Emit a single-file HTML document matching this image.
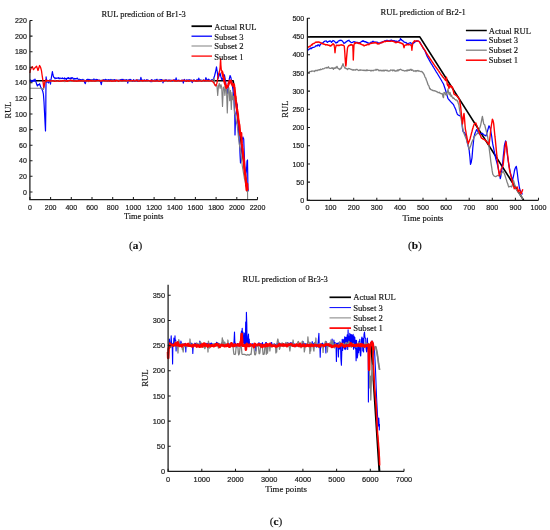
<!DOCTYPE html>
<html><head><meta charset="utf-8"><title>RUL prediction</title>
<style>
html,body{margin:0;padding:0;background:#fff;}
body{width:550px;height:530px;overflow:hidden;}
svg{display:block;}
.tk text{font-family:"Liberation Sans",sans-serif;fill:#222;stroke:#222;stroke-width:0.2px;}
.sf{font-family:"Liberation Serif",serif;fill:#111;stroke:#111;stroke-width:0.15px;}
.al{font-family:"Liberation Serif",serif;fill:#111;stroke:#111;stroke-width:0.15px;}
.lg{font-family:"Liberation Serif",serif;fill:#111;stroke:#111;stroke-width:0.15px;}
.cap{font-family:"Liberation Serif",serif;font-size:11.3px;fill:#111;stroke:#111;stroke-width:0.15px;}
</style></head><body>
<svg width="550" height="530" viewBox="0 0 550 530">
<polyline points="29.9,80.8 233.2,80.8 247.6,191.8" fill="none" stroke="#000000" stroke-width="1.6" stroke-linejoin="round"/>
<polyline points="29.9,81.4 30.2,80.7 30.6,80.0 31.0,81.0 31.3,82.0 31.6,81.2 32.0,80.4 32.4,81.0 32.8,81.6 33.2,80.8 33.6,80.0 34.0,80.5 34.3,81.0 34.6,80.0 35.0,79.1 35.3,79.9 35.6,80.8 35.9,81.7 36.2,82.6 36.5,83.6 36.8,84.6 37.1,85.2 37.4,85.9 37.8,85.2 38.2,84.6 38.6,84.7 39.0,84.8 39.3,84.2 39.6,83.7 39.9,84.6 40.2,85.5 40.7,87.0 41.1,87.7 41.5,88.4 41.9,89.1 42.2,89.7 42.5,90.6 42.8,91.5 43.1,92.8 43.4,94.2 43.7,98.1 44.0,102.0 44.3,108.0 44.6,114.0 45.1,124.0 45.5,131.0 45.8,112.0 45.9,92.0 46.1,76.9 46.5,80.0 46.8,81.1 47.1,82.2 47.5,81.6 47.8,81.0 48.2,82.0 48.6,82.9 48.9,81.7 49.2,80.5 49.5,80.2 49.8,80.0 50.1,82.1 50.5,84.2 50.9,80.0 51.3,78.0 51.8,75.0 52.1,73.3 52.4,71.6 52.9,74.5 53.2,75.7 53.5,76.9 53.9,77.3 54.3,77.6 54.7,78.0 55.1,78.7 55.6,77.9 56.0,78.2 56.5,78.4 57.0,77.9 57.5,78.2 58.0,78.2 58.5,77.6 59.0,78.7 59.5,78.5 60.0,78.0 60.5,78.3 61.0,78.6 61.5,78.3 62.0,78.3 62.5,77.8 63.0,78.7 63.5,78.5 64.0,78.6 64.5,77.9 65.0,79.2 65.5,78.6 66.0,78.4 66.5,79.4 67.0,78.5 67.5,78.0 68.0,78.4 68.5,77.6 69.0,78.9 69.5,78.3 70.0,78.2 70.5,78.9 71.0,77.8 71.5,78.6 72.0,77.6 72.5,78.2 73.0,78.0 73.5,79.1 74.0,79.3 74.5,78.5 75.0,79.0 75.5,78.7 76.0,79.0 76.5,78.5 77.0,78.2 77.5,78.2 78.0,79.2 78.5,80.0 79.0,79.4 79.5,79.2 80.0,80.4 80.5,79.7 81.0,79.7 81.5,79.9 82.0,79.7 82.5,79.7 83.0,79.3 83.5,80.2 84.0,80.0 84.4,82.0 84.9,82.9 85.3,83.7 85.7,82.2 86.0,80.7 86.5,79.8 87.0,79.6 87.5,79.4 88.0,79.4 88.5,79.7 89.0,79.3 89.5,80.4 90.0,79.6 90.5,79.7 91.0,80.2 91.5,80.2 92.0,79.5 92.5,79.7 93.0,79.9 93.5,79.6 94.0,78.9 94.5,79.9 95.0,80.0 95.5,79.9 96.0,79.3 96.5,79.6 97.0,79.5 97.5,79.6 98.0,80.3 98.5,80.4 99.0,80.0 99.5,80.0 100.0,80.1 100.4,81.5 100.9,83.2 101.3,84.7 101.7,82.5 102.0,80.9 102.5,80.3 103.0,79.8 103.5,79.8 104.0,79.6 104.5,80.1 105.0,80.1 105.5,79.3 106.0,80.1 106.5,79.7 107.0,80.4 107.5,79.9 108.0,80.5 108.5,79.7 109.0,79.7 109.5,79.9 110.0,80.2 110.5,80.1 111.0,79.4 111.5,79.9 112.0,79.9 112.5,79.8 113.0,79.7 113.5,80.7 114.0,79.8 114.5,79.7 115.0,80.3 115.5,80.1 116.0,80.1 116.5,80.4 117.0,80.3 117.5,80.3 118.0,80.6 118.5,80.3 119.0,80.0 119.5,80.1 120.0,80.1 120.0,80.4 120.6,79.8 121.2,79.4 121.8,80.3 122.4,79.6 123.0,79.3 123.6,80.5 124.2,79.9 124.8,80.5 125.4,80.0 126.0,79.7 126.6,79.7 127.2,80.0 127.8,83.2 128.4,79.9 129.0,80.2 129.5,79.5 130.1,80.3 130.7,79.4 131.3,80.2 131.9,80.6 132.5,80.8 133.1,81.2 133.7,79.5 134.3,80.7 134.9,80.9 135.5,80.8 136.1,79.8 136.7,80.5 137.3,81.2 137.9,79.6 138.5,80.5 139.1,80.9 139.7,80.0 140.3,80.6 140.9,77.3 141.5,79.9 142.1,79.9 142.7,80.4 143.3,80.3 143.9,80.8 144.5,79.8 145.1,80.2 145.7,80.8 146.3,80.6 146.9,79.6 147.5,80.6 148.0,80.1 148.6,80.5 149.2,80.5 149.8,80.9 150.4,80.4 151.0,81.9 151.6,79.6 152.2,80.7 152.8,80.2 153.4,80.9 154.0,80.4 154.6,79.9 155.2,80.8 155.8,79.9 156.4,79.3 157.0,81.3 157.6,79.3 158.2,80.6 158.8,80.8 159.4,80.4 160.0,79.5 160.6,80.8 161.2,79.6 161.8,79.6 162.4,80.1 163.0,82.9 163.6,80.5 164.2,80.7 164.8,80.1 165.4,80.2 166.0,79.7 166.5,80.1 167.1,80.6 167.7,80.2 168.3,80.5 168.9,80.0 169.5,80.0 170.1,80.3 170.7,80.2 171.3,80.6 171.9,80.4 172.5,81.2 173.1,80.2 173.7,80.2 174.3,79.8 174.9,80.3 175.5,80.6 176.1,77.9 176.7,80.3 177.3,80.7 177.9,80.2 178.5,80.0 179.1,80.8 179.7,80.3 180.3,80.5 180.9,80.9 181.5,80.9 182.1,80.1 182.7,80.0 183.3,83.2 183.9,80.2 184.5,79.4 185.0,80.9 185.6,80.3 186.2,80.7 186.8,79.7 187.4,80.9 188.0,80.0 188.6,80.2 189.2,79.6 189.8,80.2 190.4,80.2 191.0,80.2 191.6,80.5 192.2,82.6 192.8,80.8 193.4,80.1 194.0,79.8 194.6,80.3 195.2,80.6 195.8,80.9 196.4,80.7 197.0,79.4 197.6,80.5 198.2,81.0 198.8,78.1 199.4,80.0 200.0,80.5 200.6,80.0 201.2,80.6 201.8,80.3 202.4,81.0 203.0,80.5 203.5,79.9 204.1,80.6 204.7,80.8 205.3,80.0 205.9,77.6 206.5,79.1 207.1,80.8 207.7,80.0 208.3,79.2 208.9,79.4 209.5,80.2 210.1,80.7 210.7,80.3 211.3,80.5 211.9,79.7 212.5,79.6 212.5,80.0 213.0,79.5 213.5,79.0 214.0,77.5 214.5,76.0 215.0,74.0 215.5,72.0 216.0,69.5 216.5,66.9 216.9,69.5 217.3,72.0 217.7,75.4 218.0,78.8 218.5,77.4 219.0,76.0 219.5,74.5 220.0,73.0 220.5,75.0 221.0,77.0 221.5,78.5 222.0,80.0 222.5,79.0 223.0,78.0 223.5,76.9 223.9,75.9 224.4,74.8 224.9,77.4 225.3,80.0 225.7,82.7 226.1,85.3 226.5,88.0 226.9,89.8 227.3,91.5 227.7,93.3 228.1,89.7 228.5,86.0 228.9,82.5 229.3,79.0 229.7,77.2 230.1,75.5 230.6,76.8 231.0,78.0 231.5,81.0 232.0,84.0 232.5,87.0 233.0,90.0 233.5,95.0 234.0,100.0 234.4,108.0 234.8,116.0 235.0,135.0 235.5,118.0 235.9,115.0 236.3,112.0 236.8,108.0 237.2,104.0 237.5,112.0 237.8,120.0 238.2,126.5 238.6,133.0 239.0,137.5 239.4,142.0 239.8,149.0 240.1,156.0 240.5,163.0 240.8,156.5 241.2,150.0 241.6,145.0 242.0,140.0 242.5,138.5 243.0,137.0 243.3,138.0 243.7,139.0 244.2,152.0 244.5,160.0 244.8,168.0 245.2,172.0 245.6,176.0 245.9,174.0 246.3,172.0 246.7,166.5 247.0,161.0 247.5,160.0 247.7,172.0 247.9,186.0 248.1,191.0" fill="none" stroke="#0000ff" stroke-width="1.2" stroke-linejoin="round"/>
<polyline points="29.9,88.2 30.6,88.2 31.2,88.2 31.9,88.2 32.5,88.2 33.2,88.2 33.9,88.2 34.5,88.2 35.2,88.2 35.8,88.2 36.5,88.2 37.1,88.2 37.8,88.2 38.5,88.2 39.1,88.2 39.8,88.2 40.4,88.2 41.1,88.2 41.8,88.5 42.5,88.8 43.0,89.2 43.4,89.5 43.8,88.2 44.2,87.0 44.7,84.5 45.2,82.0 45.6,81.5 46.0,81.3 46.7,81.2 47.4,81.0 48.1,81.4 48.8,80.6 49.5,80.8 50.2,81.3 50.9,81.6 51.6,80.9 52.3,81.5 53.0,80.7 53.7,81.0 54.4,80.8 55.1,80.3 55.8,81.0 56.5,81.2 57.2,80.8 57.9,80.8 58.6,81.3 59.3,80.4 60.0,80.3 60.7,80.6 61.4,80.4 62.1,81.3 62.8,80.9 63.5,80.5 64.2,80.6 64.9,81.8 65.6,80.6 66.3,80.5 67.0,80.9 67.7,81.0 68.4,80.9 69.1,80.5 69.8,80.4 70.5,81.0 71.2,80.8 71.9,80.2 72.6,81.2 73.2,81.1 73.9,80.7 74.6,80.7 75.3,80.9 76.0,80.6 76.7,80.3 77.4,80.9 78.1,80.3 78.8,80.9 79.5,80.3 80.2,80.8 80.9,80.8 81.6,81.4 82.3,80.4 83.0,80.3 83.7,80.6 84.4,80.4 85.1,80.6 85.8,80.9 86.5,81.1 87.2,81.4 87.9,80.5 88.6,81.7 89.3,81.5 90.0,80.7 90.7,80.0 91.4,80.8 92.1,80.8 92.8,80.0 93.5,80.8 94.2,80.7 94.9,80.5 95.6,81.0 96.3,81.2 97.0,80.6 97.7,80.9 98.3,80.6 99.0,80.5 99.7,80.8 100.4,81.0 101.1,80.6 101.8,80.0 102.5,81.0 103.2,80.2 103.9,80.8 104.6,81.4 105.3,80.8 106.0,80.4 106.7,80.3 107.4,81.2 108.1,80.8 108.8,81.0 109.5,81.1 110.2,80.8 110.9,80.7 111.6,80.5 112.3,79.7 113.0,80.3 113.7,80.8 114.4,80.7 115.1,80.9 115.8,80.8 116.5,80.9 117.2,81.1 117.9,80.5 118.6,80.7 119.3,80.2 120.0,81.1 120.7,80.8 121.4,81.0 122.1,81.3 122.8,81.2 123.4,80.8 124.1,81.1 124.8,80.3 125.5,81.0 126.2,80.8 126.9,80.2 127.6,81.3 128.3,80.6 129.0,81.0 129.7,80.7 130.4,81.1 131.1,81.3 131.8,80.5 132.5,80.3 133.2,80.8 133.9,81.1 134.6,80.7 135.3,80.6 136.0,81.0 136.7,79.8 137.4,80.6 138.1,80.3 138.8,80.9 139.5,80.5 140.2,80.4 140.9,80.7 141.6,80.3 142.3,80.8 143.0,80.6 143.7,80.7 144.4,80.5 145.1,81.1 145.8,80.8 146.5,81.0 147.2,81.0 147.9,80.5 148.6,81.0 149.2,80.9 149.9,80.9 150.6,80.7 151.3,80.7 152.0,81.1 152.7,81.6 153.4,80.5 154.1,81.0 154.8,80.7 155.5,81.1 156.2,81.0 156.9,81.2 157.6,79.8 158.3,80.6 159.0,80.5 159.7,80.8 160.4,80.5 161.1,80.6 161.8,81.0 162.5,81.5 163.2,79.8 163.9,80.7 164.6,80.9 165.3,80.8 166.0,80.7 166.7,80.3 167.4,80.5 168.1,81.1 168.8,81.2 169.5,80.8 170.2,80.5 170.9,80.8 171.6,80.7 172.3,81.0 173.0,80.8 173.7,80.6 174.3,80.9 175.0,80.4 175.7,81.1 176.4,81.2 177.1,80.4 177.8,80.9 178.5,80.5 179.2,81.2 179.9,81.1 180.6,80.7 181.3,81.1 182.0,80.6 182.7,80.6 183.4,80.6 184.1,80.8 184.8,80.7 185.5,80.9 186.2,80.6 186.9,81.1 187.6,81.2 188.3,80.6 189.0,80.3 189.7,81.1 190.4,81.2 191.1,80.7 191.8,80.3 192.5,80.9 193.2,81.3 193.9,80.1 194.6,81.0 195.3,80.7 196.0,80.5 196.7,81.0 197.4,80.3 198.1,80.9 198.8,81.3 199.4,80.9 200.1,80.5 200.8,80.2 201.5,80.4 202.2,80.2 202.9,81.4 203.6,80.7 204.3,80.4 205.0,80.3 205.7,80.4 206.4,80.7 207.1,80.4 207.8,81.4 208.5,80.5 209.2,80.5 209.9,80.9 210.6,81.3 211.3,81.3 212.0,80.6 212.0,81.0 212.3,80.7 212.7,80.3 213.0,80.0 213.3,79.5 213.7,79.0 214.0,78.5 214.3,79.7 214.5,84.2 215.3,85.6 216.1,84.7 216.9,85.2 217.7,95.5 218.5,85.9 219.3,83.4 220.1,88.5 220.9,84.5 221.7,87.2 222.5,106.5 223.3,87.9 224.1,86.8 224.9,95.5 225.7,87.4 226.5,89.3 227.3,113.0 228.1,90.1 228.9,87.7 229.7,100.6 230.5,90.4 231.3,109.5 232.1,92.3 232.9,99.7 233.7,96.1 234.5,114.0 235.3,114.0 235.6,116.7 236.0,119.3 236.3,122.0 236.6,123.3 237.0,124.7 237.3,126.0 237.6,129.3 238.0,132.7 238.3,136.0 238.6,138.7 239.0,141.3 239.3,144.0 239.6,146.0 240.0,148.0 240.3,150.0 240.6,152.7 241.0,155.3 241.3,158.0 241.6,160.7 242.0,163.3 242.3,166.0 242.6,168.0 243.0,170.0 243.3,172.0 243.6,174.0 244.0,176.0 244.3,178.0 244.6,179.3 245.0,180.7 245.3,182.0 245.6,183.7 246.0,185.3 246.3,187.0 246.7,187.3 247.1,187.7 247.5,188.0 247.6,199.0" fill="none" stroke="#808080" stroke-width="1.15" stroke-linejoin="round"/>
<polyline points="29.9,73.0 30.3,70.5 30.9,68.6 31.6,67.4 32.4,66.7 33.0,68.4 33.5,69.7 34.2,68.6 35.0,67.8 35.8,67.0 36.6,66.3 37.3,68.4 38.0,70.5 38.8,68.0 39.6,65.5 40.2,66.6 40.7,67.8 41.1,69.2 41.5,70.8 42.0,74.5 42.6,78.4 43.2,83.0 43.7,87.4 44.3,85.0 44.9,82.2 45.6,79.9 46.4,81.4 47.2,80.4 48.0,80.7 48.0,80.6 48.8,80.6 49.6,81.0 50.4,81.2 51.2,80.8 52.0,80.6 52.8,80.8 53.6,80.7 54.4,81.4 55.2,81.1 56.0,81.2 56.8,80.9 57.6,80.6 58.4,81.2 59.2,81.3 60.0,81.0 60.8,80.8 61.6,81.1 62.4,80.7 63.2,81.0 64.0,80.6 64.8,80.5 65.6,81.0 66.4,80.9 67.2,81.4 68.0,80.7 68.8,80.8 69.6,80.5 70.4,80.2 71.2,80.3 72.0,80.9 72.8,80.4 73.6,81.1 74.4,81.2 75.2,80.7 76.0,81.3 76.8,80.9 77.6,81.1 78.4,80.7 79.2,81.1 80.0,80.5 80.8,81.0 81.6,80.7 82.4,80.8 83.2,81.0 84.0,80.9 84.8,80.8 85.6,81.0 86.4,81.0 87.2,80.4 88.0,81.0 88.8,81.0 89.6,80.6 90.4,80.9 91.2,80.4 92.0,81.2 92.8,80.7 93.6,80.8 94.4,81.2 95.2,80.8 96.0,81.0 96.8,80.5 97.6,80.6 98.4,80.4 99.2,80.7 100.0,81.1 100.8,80.9 101.6,81.1 102.4,80.5 103.2,80.5 104.0,80.7 104.8,81.0 105.6,80.9 106.4,80.8 107.2,81.0 108.0,80.8 108.8,80.8 109.6,81.2 110.4,80.6 111.2,80.9 112.0,81.3 112.8,80.8 113.6,81.0 114.4,80.6 115.2,81.4 116.0,80.1 116.8,80.5 117.6,80.5 118.4,81.3 119.2,80.9 120.0,80.7 120.8,80.4 121.6,80.9 122.4,80.8 123.2,80.6 124.0,80.4 124.8,80.5 125.6,80.9 126.4,80.9 127.2,80.8 128.0,80.8 128.8,80.3 129.6,80.8 130.4,80.5 131.2,80.8 132.0,80.9 132.8,80.6 133.6,80.5 134.4,81.1 135.2,80.9 136.0,80.6 136.8,79.9 137.6,80.8 138.4,81.0 139.2,81.1 140.0,80.6 140.8,80.6 141.6,80.7 142.4,81.1 143.2,80.4 144.0,80.8 144.8,80.5 145.6,80.9 146.4,80.3 147.2,80.9 148.0,80.7 148.8,80.7 149.6,81.0 150.4,81.1 151.2,80.3 152.0,81.1 152.8,81.0 153.6,80.7 154.4,81.2 155.2,80.9 156.0,81.2 156.8,80.6 157.6,80.5 158.4,81.2 159.2,81.4 160.0,81.0 160.8,81.1 161.6,80.7 162.4,80.4 163.2,80.7 164.0,81.3 164.8,80.2 165.6,80.7 166.4,80.2 167.2,80.8 168.0,81.1 168.8,80.4 169.6,80.7 170.4,81.2 171.2,80.8 172.0,80.4 172.8,80.4 173.6,80.2 174.4,81.0 175.2,80.6 176.0,81.1 176.8,81.1 177.6,80.6 178.4,80.6 179.2,81.0 180.0,80.8 180.8,80.9 181.6,80.3 182.4,81.1 183.2,80.5 184.0,80.1 184.8,80.6 185.6,80.9 186.4,81.4 187.2,80.7 188.0,80.4 188.8,81.4 189.6,80.8 190.4,80.7 191.2,80.5 192.0,80.5 192.8,81.2 193.6,80.7 194.4,80.6 195.2,80.6 196.0,81.3 196.8,80.6 197.6,81.0 198.4,80.9 199.2,80.9 200.0,80.5 200.8,81.0 201.6,81.3 202.4,80.8 203.2,80.5 204.0,80.4 204.8,80.9 205.6,80.7 206.4,80.8 207.2,80.8 208.0,80.4 208.8,81.0 209.6,80.9 210.4,80.8 211.2,80.9 212.0,81.1 212.0,81.0 212.3,81.3 212.6,81.6 212.9,81.9 213.2,82.2 213.5,82.5 213.8,83.0 214.1,83.5 214.4,84.0 214.7,84.5 214.9,84.8 215.2,85.1 215.4,85.4 215.7,85.7 215.9,86.0 216.2,85.2 216.4,84.5 216.7,83.8 217.0,83.0 217.2,81.5 217.5,80.0 217.8,78.5 218.0,77.0 218.2,75.9 218.5,74.8 218.8,73.2 219.0,73.1 219.3,71.8 219.5,71.1 219.8,70.1 220.1,67.5 220.3,63.5 220.6,58.7 220.8,62.2 220.9,65.0 221.2,68.5 221.5,71.2" fill="none" stroke="#ff0000" stroke-width="1.3" stroke-linejoin="round"/>
<polyline points="221.5,71.2 221.8,71.3 222.0,71.8 222.3,72.2 222.5,73.7 222.8,74.2 223.0,74.8 223.2,76.4 223.5,77.0 223.8,77.8 224.0,78.2 224.2,80.5 224.5,81.6 224.8,82.8 225.0,83.8 225.3,84.4 225.6,85.5 225.8,86.5 226.1,87.1 226.4,87.9 226.7,87.4 226.9,87.4 227.2,87.0 227.5,86.1 227.8,86.3 228.0,85.6 228.2,85.0 228.5,83.9 228.8,83.4 229.0,82.4 229.2,82.9 229.5,80.9 229.8,81.3 230.0,80.8 230.3,80.9 230.5,80.8 230.8,80.6 231.0,80.7 231.2,81.8 231.5,83.0 231.8,83.8 232.0,84.4 232.2,84.4 232.5,84.8 232.8,85.7 233.0,84.8 233.3,85.0 233.5,85.3 233.8,84.3 234.0,85.1 234.3,87.0 234.5,87.6 234.7,90.3 235.0,93.4 235.2,95.9 235.5,96.1 235.7,99.4 236.0,102.0 236.3,103.1 236.5,105.8 236.8,108.8 237.1,109.4 237.3,111.6 237.6,113.0 237.9,114.4 238.1,117.8 238.4,119.9 238.7,121.8 238.9,123.7 239.2,124.3 239.5,126.5 239.7,129.6 240.0,132.1 240.3,134.5 240.6,135.3 240.9,134.4 241.2,133.0 241.4,137.6 241.6,140.7 241.8,143.7 242.1,145.6 242.3,147.7 242.6,149.5 242.9,152.8 243.2,155.8 243.4,158.0 243.6,158.8 243.8,159.6 244.1,163.7 244.4,168.6 244.7,170.7 245.0,173.1 245.3,175.4 245.6,177.8 245.9,180.9 246.2,185.6 246.4,187.1 246.7,190.2 246.9,186.8 247.2,184.0 247.3,187.0 247.5,190.0" fill="none" stroke="#ff0000" stroke-width="2.3" stroke-linejoin="round"/>
<path d="M29.9 20.5V199.7H257.5" fill="none" stroke="#1c1c1c" stroke-width="1.25"/>
<path d="M29.9 199.7v-2.6M50.6 199.7v-2.6M71.3 199.7v-2.6M92.0 199.7v-2.6M112.7 199.7v-2.6M133.4 199.7v-2.6M154.1 199.7v-2.6M174.8 199.7v-2.6M195.4 199.7v-2.6M216.1 199.7v-2.6M236.8 199.7v-2.6M257.5 199.7v-2.6M29.9 191.9h2.6M29.9 176.3h2.6M29.9 160.7h2.6M29.9 145.2h2.6M29.9 129.6h2.6M29.9 114.0h2.6M29.9 98.4h2.6M29.9 82.8h2.6M29.9 67.3h2.6M29.9 51.7h2.6M29.9 36.1h2.6M29.9 20.5h2.6" fill="none" stroke="#1c1c1c" stroke-width="1.05"/>
<g class="tk" text-anchor="middle" font-size="7.0">
<text x="29.9" y="209.6">0</text>
<text x="50.6" y="209.6">200</text>
<text x="71.3" y="209.6">400</text>
<text x="92.0" y="209.6">600</text>
<text x="112.7" y="209.6">800</text>
<text x="133.4" y="209.6">1000</text>
<text x="154.1" y="209.6">1200</text>
<text x="174.8" y="209.6">1400</text>
<text x="195.4" y="209.6">1600</text>
<text x="216.1" y="209.6">1800</text>
<text x="236.8" y="209.6">2000</text>
<text x="257.5" y="209.6">2200</text>
</g>
<g class="tk" text-anchor="end" font-size="7.0">
<text x="26.8" y="194.5">0</text>
<text x="26.8" y="178.9">20</text>
<text x="26.8" y="163.3">40</text>
<text x="26.8" y="147.8">60</text>
<text x="26.8" y="132.2">80</text>
<text x="26.8" y="116.6">100</text>
<text x="26.8" y="101.0">120</text>
<text x="26.8" y="85.4">140</text>
<text x="26.8" y="69.9">160</text>
<text x="26.8" y="54.3">180</text>
<text x="26.8" y="38.7">200</text>
<text x="26.8" y="23.1">220</text>
</g>
<text class="sf" font-size="8.5" text-anchor="middle" x="143.6" y="17.4">RUL prediction of Br1-3</text>
<text class="al" font-size="8.3" text-anchor="middle" x="143.7" y="219.3">Time points</text>
<text class="al" font-size="8.3" text-anchor="middle" transform="translate(10.7 110.1) rotate(-90)">RUL</text>
<text class="cap" text-anchor="middle" x="135.7" y="248.7">(<tspan font-weight="bold">a</tspan>)</text>
<path d="M191.5 26.2H212.0" stroke="#000000" stroke-width="1.8"/>
<text class="lg" font-size="8.6" x="214.3" y="29.6">Actual RUL</text>
<path d="M191.5 36.2H212.0" stroke="#0000ff" stroke-width="1.3"/>
<text class="lg" font-size="8.6" x="214.3" y="39.6">Subset 3</text>
<path d="M191.5 46.0H212.0" stroke="#808080" stroke-width="1.0"/>
<text class="lg" font-size="8.6" x="214.3" y="49.4">Subset 2</text>
<path d="M191.5 56.1H212.0" stroke="#ff0000" stroke-width="1.3"/>
<text class="lg" font-size="8.6" x="214.3" y="59.5">Subset 1</text>
<polyline points="307.4,36.9 419.8,36.9 523.6,200.1" fill="none" stroke="#000000" stroke-width="1.7" stroke-linejoin="round"/>
<polyline points="307.4,50.2 307.9,49.8 308.5,49.8 309.0,49.2 309.5,48.8 310.0,49.0 310.5,48.2 311.0,47.9 311.5,48.7 312.0,47.8 312.5,47.6 313.0,47.4 313.5,47.3 314.0,47.3 314.5,47.0 315.0,46.7 315.5,46.3 316.0,45.7 316.5,45.9 317.0,46.0 317.4,45.5 317.9,44.9 318.3,44.8 318.9,45.3 319.5,46.2 320.0,45.0 320.5,44.4 321.0,43.9 321.5,43.2 322.0,43.2 322.5,43.2 323.0,42.8 323.5,42.1 324.0,41.7 324.5,41.4 325.1,41.1 325.6,41.0 326.2,40.8 326.8,41.6 327.3,42.4 327.9,42.0 328.5,41.6 329.0,41.1 329.5,41.4 330.0,40.9 330.5,41.0 331.0,41.6 331.5,42.4 332.0,41.7 332.5,41.3 333.0,40.5 333.5,40.7 334.0,41.0 334.5,41.3 335.0,41.9 335.5,42.6 336.0,43.2 336.5,42.4 337.0,42.4 337.5,42.5 338.0,41.4 338.5,40.9 339.0,40.9 339.5,40.5 340.0,40.2 340.5,40.5 341.0,40.2 341.5,40.6 342.0,40.7 342.5,41.3 343.0,41.9 343.5,42.6 344.0,43.3 344.5,43.1 345.0,42.7 345.5,42.7 346.0,41.7 346.5,41.7 347.0,41.2 347.5,40.8 348.0,40.6 348.5,40.6 349.0,40.2 349.5,41.1 350.0,41.6 350.5,41.8 351.0,42.5 351.5,42.6 352.0,42.5 352.5,42.4 353.0,42.0 353.5,41.8 354.0,41.7 354.5,41.8 355.0,42.1 355.5,42.1 356.0,42.4 356.5,42.6 357.0,42.1 357.5,42.6 358.0,42.6 358.5,43.2 359.0,43.4 359.5,42.6 360.0,42.5 360.5,42.4 361.0,41.9 361.5,41.5 362.0,41.2 362.5,41.3 363.0,40.6 363.5,41.3 364.0,41.2 364.5,41.6 365.0,42.0 365.5,41.7 366.0,41.9 366.5,42.5 367.0,42.3 367.5,42.6 368.0,42.9 368.5,43.2 369.0,43.0 369.5,43.0 370.0,43.1 370.5,43.1 371.0,42.1 371.5,42.7 372.0,42.3 372.5,41.6 373.0,41.2 373.5,41.9 374.0,41.8 374.5,42.1 375.0,42.4 375.5,42.0 376.0,42.0 376.5,42.0 377.0,42.0 377.5,42.5 378.0,42.8 378.5,42.8 379.0,42.9 379.5,43.5 380.0,43.0 380.5,42.8 381.0,42.3 381.5,42.6 382.0,42.0 382.5,41.9 383.0,41.5 383.5,41.5 384.0,41.4 384.5,40.8 385.0,40.8 385.5,40.9 386.0,40.5 386.5,40.4 387.0,40.4 387.5,40.4 388.0,41.0 388.5,40.7 389.0,41.2 389.5,41.1 390.0,40.4 390.5,40.5 391.0,40.2 391.5,40.1 392.0,40.4 392.5,40.5 393.0,40.8 393.5,41.0 394.0,40.6 394.5,40.9 395.0,41.3 395.5,41.6 396.0,40.8 396.5,41.8 397.0,41.6 397.5,41.8 398.0,41.2 398.5,40.9 399.0,41.0 399.5,40.7 400.0,39.8 400.5,38.6 401.0,39.8 401.5,39.7 402.0,40.4 402.5,40.7 403.0,40.9 403.5,41.5 404.0,42.0 404.5,42.2 405.0,42.5 405.5,42.6 406.0,42.4 406.5,43.0 407.0,43.4 407.5,43.6 408.0,43.6 408.5,43.5 409.0,43.2 409.5,43.0 410.0,42.8 410.5,42.7 411.0,43.1 411.5,44.0 412.0,44.1 412.5,44.1 413.0,43.2 413.5,43.2 414.0,42.0 414.5,42.5 415.0,41.8 415.5,41.6 416.0,41.3 416.5,41.4 417.0,40.7 417.5,41.2 418.0,41.1 418.5,41.2 419.0,41.3 419.5,41.9 420.0,42.3 420.5,43.3 421.0,44.0 421.5,45.0 422.0,46.0 422.5,47.0 423.0,48.0 423.5,48.8 424.0,49.5 424.5,50.2 425.0,51.0 425.5,52.2 426.0,53.5 426.5,54.8 427.0,56.0 427.6,57.1 428.2,58.2 428.8,59.3 429.4,60.4 430.0,61.5 430.5,62.4 431.0,63.2 431.5,64.1 432.1,64.9 432.6,65.8 433.1,66.6 433.6,67.5 434.2,68.4 434.7,69.3 435.3,70.2 435.9,71.2 436.4,72.1 437.0,73.0 437.6,74.0 438.2,75.0 438.8,76.0 439.4,77.0 440.0,78.0 440.6,79.0 441.2,80.0 441.8,81.0 442.3,82.0 442.9,83.0 443.5,84.0 444.0,85.5 444.5,87.0 445.0,88.5 445.5,90.0 446.0,91.7 446.5,93.4 447.0,95.2 447.5,96.9 448.0,98.6 448.5,99.2 449.0,99.8 449.5,100.3 450.0,100.9 450.5,101.5 451.1,102.1 451.7,102.7 452.2,103.3 452.8,103.9 453.4,104.5 453.9,105.6 454.4,106.8 455.0,107.9 455.5,109.0 456.0,110.3 456.4,111.7 456.9,113.1 457.4,114.4 457.9,114.8 458.5,115.1 459.0,115.5 459.5,115.6 460.0,115.8 460.5,115.9 461.0,116.0 461.4,118.0 461.8,120.0 462.4,128.0 462.7,129.7 463.0,131.4 463.4,131.8 463.9,132.1 464.3,132.5 464.9,133.3 465.4,134.2 465.9,136.1 466.4,138.0 466.9,140.3 467.3,142.7 467.8,144.3 468.2,146.0 468.7,148.2 469.2,150.3 469.5,153.7 469.9,157.0 470.2,160.7 470.5,164.4 470.9,163.2 471.3,162.0 471.6,159.9 472.0,157.8 472.4,152.9 472.8,148.0 473.4,142.5 473.9,137.0 474.4,135.5 474.8,134.0 475.3,132.5 475.8,131.5 476.2,130.5 476.7,129.5 477.1,130.3 477.6,131.2 478.0,132.0 478.5,132.7 479.0,133.5 479.5,134.2 480.0,134.0 480.5,133.7 481.0,133.5 481.5,133.4 481.9,133.4 482.4,133.3 482.8,133.7 483.3,134.2 483.8,134.6 484.2,135.0 484.6,135.2 485.1,135.5 485.6,135.8 486.0,136.0 486.5,134.3 487.0,132.7 487.5,131.0 488.0,129.3 488.5,127.5 489.0,125.8 489.5,126.7 490.0,127.5 490.4,129.4 490.8,131.4 491.3,134.2 491.8,137.0 492.2,140.3 492.7,143.7 493.1,145.8 493.6,147.9 494.0,150.0 494.5,152.7 495.1,155.3 495.6,158.0 496.1,159.8 496.6,161.5 497.0,163.2 497.5,165.0 498.0,167.3 498.5,169.7 499.0,172.0 499.4,174.2 499.9,176.4 500.3,178.6 500.8,176.3 501.2,174.0 501.7,170.7 502.2,167.3 502.8,161.7 503.3,156.0 503.9,150.8 504.4,145.6 504.8,144.0 505.2,142.4 505.6,140.8 506.1,143.4 506.5,146.0 507.0,151.0 507.5,156.0 508.0,159.3 508.5,162.7 509.0,166.0 509.6,168.7 510.1,171.3 510.7,174.0 511.1,175.6 511.6,177.2 512.0,178.9 512.5,180.5 513.0,178.2 513.5,176.0 514.0,173.5 514.4,171.0 514.8,169.5 515.3,168.0 515.8,167.2 516.3,166.3 516.8,169.2 517.2,172.0 517.7,176.2 518.2,180.5 518.7,183.2 519.1,186.0 519.5,188.0 520.0,190.0 520.4,190.7 520.8,191.3 521.2,192.0 521.8,193.3 522.4,194.6" fill="none" stroke="#0000ff" stroke-width="1.25" stroke-linejoin="round"/>
<polyline points="307.4,73.4 307.8,73.1 308.2,72.6 308.6,72.5 309.0,72.3 309.5,71.5 310.0,71.7 310.5,71.5 311.0,71.3 311.5,71.5 312.0,71.0 312.5,71.1 313.0,71.2 313.5,71.2 314.0,71.1 314.5,71.6 315.0,70.6 315.5,70.7 316.0,70.2 316.5,70.5 317.0,70.6 317.5,70.5 318.0,69.8 318.5,69.8 319.0,70.1 319.5,69.6 320.0,69.8 320.5,69.1 321.0,69.7 321.5,69.5 322.0,69.2 322.5,68.7 323.0,68.8 323.5,68.8 324.0,68.7 324.5,68.3 325.0,68.0 325.5,67.8 326.0,67.9 326.5,67.4 327.0,68.1 327.5,67.6 327.9,67.5 328.4,66.8 328.8,67.8 329.2,68.0 329.6,68.2 330.0,68.4 330.5,68.4 331.0,68.3 331.5,68.1 332.0,67.6 332.5,68.4 333.0,68.2 333.5,69.4 334.0,67.8 334.5,68.4 335.0,67.9 335.5,68.2 336.0,67.1 336.5,67.7 337.0,66.3 337.5,68.0 338.0,68.1 338.5,68.6 339.0,68.9 339.5,69.7 340.0,69.5 340.5,68.1 341.0,68.6 341.5,67.9 342.0,66.0 342.5,65.5 343.0,63.6 343.5,65.3 344.0,66.6 344.5,67.1 345.0,68.2 345.5,67.9 346.0,68.6 346.5,68.6 347.0,68.9 347.5,69.5 348.0,68.8 348.5,68.4 349.0,68.6 349.5,68.6 350.0,69.0 350.5,69.2 351.0,69.4 351.5,69.6 352.0,69.5 352.5,70.0 353.0,70.3 353.5,69.7 354.0,69.8 354.5,69.8 355.0,70.1 355.5,70.0 356.0,69.4 356.5,69.7 357.0,69.4 357.5,69.7 358.0,70.1 358.5,70.4 359.0,70.6 359.5,70.2 360.0,69.8 360.5,70.3 361.0,70.0 361.5,70.2 362.0,70.0 362.5,70.3 363.0,70.3 363.5,70.5 364.0,70.1 364.5,70.6 365.0,70.2 365.5,70.4 366.0,70.8 366.5,70.3 367.0,69.8 367.5,70.5 368.0,70.3 368.5,70.4 369.0,70.3 369.5,70.4 370.0,70.3 370.5,70.3 371.0,71.1 371.5,70.4 372.0,70.3 372.5,70.3 373.0,70.9 373.5,70.5 374.0,70.1 374.5,70.1 375.0,70.2 375.5,70.2 376.0,69.3 376.5,70.0 377.0,69.5 377.5,69.5 378.0,69.7 378.5,70.2 379.0,70.7 379.5,70.3 380.0,70.6 380.5,70.2 381.0,70.7 381.5,70.8 382.0,70.2 382.5,70.6 383.0,71.0 383.5,70.2 384.0,70.6 384.5,70.8 385.0,70.0 385.5,70.3 386.0,70.4 386.5,70.7 387.0,70.1 387.5,70.9 388.0,70.8 388.5,71.1 389.0,71.1 389.5,70.8 390.0,70.8 390.5,70.0 391.0,70.1 391.5,70.1 392.0,70.2 392.5,70.7 393.0,69.9 393.5,70.5 394.0,70.2 394.5,70.2 395.0,71.2 395.5,70.8 396.0,71.2 396.5,71.0 397.0,70.3 397.5,69.9 398.0,71.0 398.5,70.1 399.0,69.7 399.5,70.0 400.0,69.6 400.5,69.2 401.0,69.6 401.5,70.0 402.0,70.2 402.5,70.5 403.0,70.3 403.5,70.4 404.0,70.8 404.5,70.8 405.0,71.1 405.5,70.7 406.0,70.6 406.5,70.3 407.0,71.0 407.5,70.0 408.0,70.5 408.5,70.0 409.0,70.3 409.5,70.3 410.0,69.5 410.5,69.8 411.0,69.3 411.5,70.4 412.0,70.0 412.5,69.9 413.0,70.3 413.5,71.0 414.0,71.1 414.5,71.1 415.0,70.6 415.5,70.9 416.0,71.5 416.5,70.7 417.0,70.8 417.5,70.6 418.0,70.5 418.5,71.2 419.0,71.0 419.5,71.1 419.9,71.2 420.4,71.5 420.9,71.7 421.3,71.4 421.8,71.4 422.2,71.7 422.6,72.8 423.0,72.8 423.5,73.3 423.9,74.4 424.4,75.2 424.8,76.4 425.2,77.4 425.6,77.8 426.0,78.8 426.4,80.2 426.9,81.1 427.4,82.7 427.8,84.1 428.3,85.1 428.8,85.7 429.2,86.9 429.7,88.8 430.2,88.5 430.6,89.4 431.1,89.7 431.5,89.8 432.0,90.0 432.5,90.5 433.0,90.3 433.5,90.6 434.0,90.8 434.5,90.7 435.0,90.9 435.5,91.2 436.0,91.2 436.5,91.7 437.0,91.9 437.5,91.8 438.0,92.5 438.5,92.6 439.0,92.7 439.5,92.3 440.0,93.3 440.5,93.4 441.0,93.6 441.5,93.8 442.0,93.5 442.5,94.2 443.0,96.8 443.5,97.6 444.0,92.5 444.5,92.8 445.0,92.4 445.5,94.7 446.0,94.9 446.5,95.0 447.0,92.6 447.5,92.2 448.0,89.0 448.5,92.0 449.0,94.1 449.5,94.7 450.0,92.4 450.5,94.2 451.0,96.4 451.5,95.3 452.0,96.6 452.4,97.4 452.9,98.2 453.4,97.7 453.8,98.4 454.2,98.4 454.6,99.1 455.0,99.5 455.4,99.7 455.9,100.2 456.3,100.0 456.7,100.1 457.1,100.5 457.4,101.6 457.8,101.3 458.3,103.6 458.8,104.4 459.2,107.1 459.6,109.8 460.0,112.0 460.5,115.0 461.0,118.0 461.5,121.0 462.0,123.8 462.5,126.7 463.0,129.6 463.5,132.4 464.0,133.6 464.5,134.8 465.0,136.0 465.4,137.0 465.9,138.0 466.3,139.0 466.8,140.7 467.3,142.3 467.8,144.0 468.3,145.8 468.7,147.5 469.2,149.3 469.7,148.2 470.1,147.1 470.6,146.0 471.1,144.6 471.5,143.2 472.0,141.8 472.5,140.9 472.9,139.9 473.4,139.0 473.9,138.0 474.3,137.0 474.8,136.0 475.3,135.5 475.7,135.0 476.2,134.5 476.7,134.1 477.1,133.7 477.6,133.3 478.1,132.2 478.5,131.1 479.0,130.0 479.5,128.6 480.0,127.2 480.5,125.8 481.0,123.4 481.5,121.0 481.9,118.7 482.4,116.3 482.7,118.2 483.0,120.0 483.4,122.0 483.7,123.9 484.1,124.2 484.6,124.5 485.1,126.5 485.6,128.6 486.1,130.3 486.5,132.0 487.0,134.0 487.5,136.0 487.9,138.5 488.3,141.0 488.6,143.8 489.0,146.5 489.4,150.2 489.9,154.0 490.4,157.8 490.8,161.6 491.3,164.8 491.8,168.0 492.2,170.9 492.7,173.9 493.1,174.6 493.6,175.3 494.0,176.0 494.4,176.2 494.8,176.3 495.2,176.5 495.6,176.7 496.1,176.4 496.6,176.1 497.0,175.8 497.5,175.5 497.9,175.6 498.4,175.7 498.9,175.7 499.3,175.8 499.8,175.4 500.2,174.9 500.7,174.4 501.2,174.0 501.7,173.2 502.1,172.5 502.6,171.8 503.1,171.0 503.6,172.0 504.0,173.0 504.5,174.0 505.0,175.5 505.5,177.1 506.0,178.6 506.5,180.1 506.9,181.5 507.4,183.0 507.9,184.3 508.3,185.7 508.8,187.0 509.3,186.7 509.7,186.5 510.2,186.2 510.7,186.5 511.1,186.7 511.6,187.0 512.1,185.5 512.6,184.0 513.0,182.2 513.5,180.5 514.0,182.2 514.5,184.0 515.0,186.0 515.4,188.0 515.9,188.8 516.3,189.5 516.8,190.2 517.3,191.0 517.8,191.7 518.2,192.3 518.7,193.0 519.2,193.7 519.7,194.3 520.1,194.9 520.6,195.5 521.1,196.2 521.5,196.8 522.0,197.5 522.5,198.2 523.0,199.0" fill="none" stroke="#808080" stroke-width="1.3" stroke-linejoin="round"/>
<polyline points="307.4,48.0 307.7,47.6 308.0,47.4 308.4,47.2 308.7,46.8 309.0,46.9 309.4,46.5 309.8,46.3 310.2,46.2 310.6,45.8 311.0,45.5 311.4,45.0 311.8,44.6 312.2,44.9 312.6,44.0 313.0,43.8 313.4,43.5 313.8,43.5 314.2,43.3 314.6,43.1 315.0,42.7 315.4,42.2 315.8,42.4 316.2,42.4 316.6,42.1 317.0,41.9 317.4,42.1 317.8,42.3 318.2,42.1 318.6,41.9 319.0,42.1 319.4,42.3 319.8,42.2 320.2,42.8 320.6,42.7 321.0,43.1 321.4,43.2 321.8,43.3 322.2,43.8 322.6,43.5 323.0,43.7 323.4,44.0 323.8,44.2 324.2,44.2 324.6,44.1 325.0,44.5 325.4,44.6 325.8,45.0 326.2,44.6 326.6,44.8 327.0,44.7 327.4,44.6 327.8,45.1 328.2,45.3 328.6,45.1 329.0,45.3 329.4,45.3 329.8,45.9 330.2,45.6 330.6,46.0 331.0,45.8 331.3,45.7 331.7,45.2 332.0,44.5 332.3,44.7 332.7,44.4 333.0,43.6 333.3,44.1 333.7,44.2 334.0,44.3 334.3,46.2 334.6,47.6 335.0,52.8 335.2,50.6 335.5,47.7 335.9,46.5 336.2,45.3 336.6,45.1 336.9,45.1 337.3,45.2 337.6,45.5 338.0,45.6 338.4,45.6 338.8,45.1 339.2,45.6 339.6,45.2 340.0,45.3 340.4,45.0 340.8,44.9 341.2,45.0 341.6,44.8 342.0,44.9 342.4,45.2 342.8,45.4 343.1,45.3 343.5,45.3 343.8,45.5 344.0,45.9 344.3,46.2 344.6,49.9 344.9,54.0 345.1,57.8 345.4,62.0 345.6,64.5 345.8,66.0 346.1,64.4 346.3,61.9 346.6,57.5 346.9,54.1 347.2,51.0 347.5,48.1 347.9,46.7 348.2,46.4 348.6,45.8 348.9,45.5 349.3,45.7 349.6,45.3 350.0,45.2 350.4,45.2 350.8,44.4 351.2,45.1 351.6,44.6 352.0,44.7 352.3,45.1 352.5,45.1 352.8,45.6 353.1,52.2 353.3,60.0 353.6,52.1 354.0,44.7 354.3,43.8 354.6,42.8 355.0,43.0 355.3,43.5 355.6,42.8 356.0,42.6 356.4,42.7 356.8,43.0 357.2,43.1 357.6,42.9 358.0,43.4 358.4,43.3 358.8,43.5 359.2,43.0 359.6,43.2 360.0,43.7 360.4,43.4 360.8,44.1 361.2,44.3 361.6,44.4 362.0,44.7 362.4,44.8 362.8,45.0 363.2,45.0 363.6,45.2 364.0,46.0 364.4,45.6 364.8,45.4 365.2,45.4 365.6,45.1 366.0,45.2 366.4,45.0 366.8,45.1 367.2,44.5 367.6,44.1 368.0,44.3 368.4,44.4 368.8,44.7 369.2,44.2 369.6,43.7 370.0,43.8 370.4,43.5 370.8,43.5 371.2,43.3 371.6,43.0 372.0,43.3 372.4,43.1 372.8,42.9 373.2,42.9 373.6,43.1 374.0,42.6 374.4,42.6 374.8,42.9 375.2,42.4 375.6,42.9 376.0,42.6 376.4,42.8 376.8,43.2 377.2,43.7 377.6,43.5 378.0,44.0 378.4,43.8 378.8,43.4 379.2,43.7 379.6,43.3 380.0,43.1 380.4,43.0 380.8,42.9 381.2,42.9 381.6,42.5 382.0,42.7 382.4,42.3 382.8,42.0 383.2,41.9 383.6,42.0 384.0,41.4 384.4,41.3 384.8,41.5 385.2,41.7 385.6,41.5 386.0,41.4 386.4,41.3 386.8,40.9 387.2,41.2 387.6,40.9 388.0,41.4 388.4,41.2 388.8,41.3 389.2,41.4 389.6,41.4 390.0,41.4 390.4,41.4 390.8,41.1 391.2,40.9 391.6,41.1 392.0,41.3 392.4,41.3 392.8,41.2 393.2,41.5 393.6,41.4 394.0,41.7 394.4,41.6 394.8,41.9 395.2,42.5 395.6,42.4 396.0,42.7 396.4,42.2 396.8,42.1 397.2,42.2 397.6,42.2 398.0,42.0 398.4,42.3 398.8,42.1 399.2,42.6 399.6,42.7 400.0,42.4 400.4,42.9 400.8,43.0 401.2,43.4 401.6,43.3 402.0,43.7 402.3,43.9 402.6,43.5 403.0,43.9 403.3,44.5 403.6,46.0 404.0,47.7 404.3,46.8 404.5,45.8 404.8,45.5 405.2,45.1 405.6,45.1 406.0,44.9 406.4,45.0 406.8,44.6 407.2,44.5 407.6,44.2 408.0,45.0 408.4,44.4 408.8,44.5 409.2,44.5 409.6,44.6 410.0,44.7 410.3,45.0 410.6,44.9 411.0,45.0 411.3,44.9 411.7,48.0 411.9,50.3 412.2,47.0 412.5,45.1 412.8,42.6 413.2,42.6 413.6,42.0 414.0,41.7 414.4,40.7 414.8,41.2 415.2,41.1 415.6,41.0 416.0,40.8 416.4,41.0 416.8,41.1 417.2,41.0 417.6,40.9 418.0,41.0 418.4,41.2 418.8,41.5 419.1,41.6 419.5,41.6 419.9,42.9 420.2,43.2 420.6,43.9 421.0,44.5 421.4,45.1 421.8,45.7 422.2,46.3 422.6,46.9 423.0,47.5 423.4,48.1 423.8,48.7 424.2,49.3 424.6,49.9 425.0,50.5 425.4,51.2 425.8,51.9 426.2,52.6 426.6,53.3 427.0,54.0 427.4,54.6 427.8,55.2 428.2,55.8 428.6,56.4 429.0,57.0 429.4,57.6 429.8,58.2 430.2,58.8 430.6,59.4 431.0,60.0 431.4,60.6 431.8,61.2 432.2,61.8 432.6,62.4 433.0,63.0 433.4,63.6 433.8,64.2 434.2,64.8 434.6,65.4 435.0,66.0 435.4,66.5 435.8,67.0 436.1,67.5 436.5,68.0 436.9,68.5 437.2,69.0 437.6,69.5 438.0,70.0 438.4,70.6 438.8,71.1 439.1,71.7 439.5,72.2 439.9,72.8 440.2,73.4 440.6,73.9 441.0,74.5 441.4,75.0 441.8,75.5 442.1,76.0 442.5,76.5 442.9,77.0 443.3,77.4 443.7,77.9 444.0,78.4 444.4,78.9 444.8,79.4 445.1,79.8 445.3,80.1 445.6,80.5 445.9,80.0 446.2,79.5 446.5,77.2 446.8,80.9 447.0,81.7 447.2,84.2 447.5,85.0 447.8,85.8 448.0,84.8 448.3,84.2 448.6,86.5 449.0,88.3 449.3,87.1 449.7,86.7 450.0,85.4 450.3,86.3 450.6,86.8 451.0,85.7 451.3,87.2 451.6,86.6 452.0,87.5 452.4,87.0 452.7,88.0 453.0,89.5 453.4,91.0 453.7,92.5 454.0,94.0 454.4,94.2 454.8,94.5 455.1,94.8 455.5,95.0 455.9,95.2 456.2,95.5 456.6,95.8 457.0,96.0 457.4,96.5 457.8,97.0 458.2,97.5 458.6,98.0 458.9,98.5 459.3,99.0 459.7,101.0 460.0,103.0 460.4,105.0 460.7,107.0 461.0,110.0 461.3,113.0 461.6,116.0 461.9,119.0 462.2,121.5 462.5,123.9 462.9,121.0 463.2,118.0 463.5,116.5 463.7,115.0 464.0,113.5 464.4,117.2 464.7,121.0 465.0,125.2 465.4,129.5 465.8,131.2 466.1,133.0 466.4,134.8 466.8,136.5 467.1,138.3 467.5,140.1 467.9,141.9 468.2,143.7 468.5,143.0 468.8,142.2 469.1,141.5 469.4,140.7 469.7,139.8 470.0,139.0 470.3,137.8 470.6,136.5 471.0,135.2 471.3,134.0 471.6,132.8 472.0,131.5 472.3,130.2 472.6,129.0 472.9,128.0 473.2,126.9 473.6,125.8 473.9,124.8 474.2,124.4 474.5,123.9 474.8,123.5 475.1,123.3 475.5,123.2 475.8,123.0 476.1,123.9 476.5,124.8 476.9,125.6 477.2,126.5 477.6,127.5 477.9,128.5 478.2,129.5 478.6,130.5 479.0,131.5 479.3,132.5 479.6,133.5 480.0,134.5 480.4,135.4 480.7,136.2 481.0,137.1 481.4,138.0 481.8,138.2 482.2,138.5 482.5,138.7 482.9,139.0 483.3,139.2 483.7,139.4 484.1,139.5 484.4,139.7 484.8,139.8 485.2,140.0 485.6,140.4 485.9,140.8 486.3,141.2 486.6,141.6 487.0,142.0 487.4,142.5 487.8,143.0 488.2,143.6 488.6,144.1 489.0,144.6 489.3,142.4 489.6,140.2 489.9,138.0 490.2,135.2 490.5,132.3 490.8,129.5 491.1,127.7 491.3,125.8 491.6,124.0 492.0,121.6 492.4,119.2 492.7,119.8 493.0,120.5 493.4,122.2 493.7,123.9 494.0,126.9 494.3,130.0 494.6,133.0 494.9,136.2 495.3,139.5 495.6,142.7 495.9,145.8 496.2,148.9 496.5,152.0 496.8,155.2 497.2,158.4 497.5,161.6 497.8,164.1 498.1,166.5 498.4,169.0 498.7,171.3 499.0,173.5 499.3,175.8 499.6,174.7 499.9,173.6 500.2,172.5 500.5,171.3 500.9,170.2 501.2,169.0 501.5,168.5 501.8,168.0 502.1,167.5 502.4,166.8 502.8,166.1 503.1,165.4 503.4,162.6 503.7,159.8 504.0,157.0 504.3,154.1 504.7,151.3 505.0,148.4 505.2,146.4 505.5,144.5 505.8,143.2 506.0,141.8 506.4,144.4 506.7,147.0 507.0,149.3 507.2,151.7 507.5,154.0 507.9,157.0 508.2,160.0 508.6,163.0 509.0,165.7 509.3,168.3 509.7,171.0 510.0,172.2 510.4,173.5 510.7,174.8 511.0,176.0 511.3,177.4 511.6,178.8 512.0,180.2 512.3,181.6 512.6,183.0 513.0,184.5 513.4,186.0 513.7,186.9 514.0,187.8 514.3,188.7 514.7,188.4 515.0,188.1 515.4,187.9 515.8,187.6 516.1,187.4 516.5,187.3 516.9,187.2 517.2,187.0 517.5,188.2 517.8,189.5 518.0,190.5 518.3,191.5 518.6,190.9 519.0,190.4 519.4,190.1 519.7,189.8 520.0,190.9 520.4,192.0 520.8,192.9 521.1,193.8 521.4,193.0 521.7,192.3 522.0,191.5 522.4,190.4 522.8,189.3" fill="none" stroke="#ff0000" stroke-width="1.4" stroke-linejoin="round"/>
<path d="M307.4 18.1V200.3H538.5" fill="none" stroke="#1c1c1c" stroke-width="1.25"/>
<path d="M307.4 200.3v-2.6M330.6 200.3v-2.6M353.7 200.3v-2.6M376.8 200.3v-2.6M399.9 200.3v-2.6M423.0 200.3v-2.6M446.1 200.3v-2.6M469.2 200.3v-2.6M492.3 200.3v-2.6M515.4 200.3v-2.6M538.5 200.3v-2.6M307.4 200.3h2.6M307.4 182.1h2.6M307.4 163.9h2.6M307.4 145.7h2.6M307.4 127.5h2.6M307.4 109.3h2.6M307.4 91.1h2.6M307.4 72.9h2.6M307.4 54.7h2.6M307.4 36.5h2.6M307.4 18.3h2.6" fill="none" stroke="#1c1c1c" stroke-width="1.05"/>
<g class="tk" text-anchor="middle" font-size="7.15">
<text x="307.4" y="210.0">0</text>
<text x="330.6" y="210.0">100</text>
<text x="353.7" y="210.0">200</text>
<text x="376.8" y="210.0">300</text>
<text x="399.9" y="210.0">400</text>
<text x="423.0" y="210.0">500</text>
<text x="446.1" y="210.0">600</text>
<text x="469.2" y="210.0">700</text>
<text x="492.3" y="210.0">800</text>
<text x="515.4" y="210.0">900</text>
<text x="538.5" y="210.0">1000</text>
</g>
<g class="tk" text-anchor="end" font-size="7.15">
<text x="304.3" y="202.9">0</text>
<text x="304.3" y="184.7">50</text>
<text x="304.3" y="166.5">100</text>
<text x="304.3" y="148.3">150</text>
<text x="304.3" y="130.1">200</text>
<text x="304.3" y="111.9">250</text>
<text x="304.3" y="93.7">300</text>
<text x="304.3" y="75.5">350</text>
<text x="304.3" y="57.3">400</text>
<text x="304.3" y="39.1">450</text>
<text x="304.3" y="20.9">500</text>
</g>
<text class="sf" font-size="8.6" text-anchor="middle" x="423.2" y="15.4">RUL prediction of Br2-1</text>
<text class="al" font-size="8.55" text-anchor="middle" x="423.0" y="221.0">Time points</text>
<text class="al" font-size="8.55" text-anchor="middle" transform="translate(287.8 109.2) rotate(-90)">RUL</text>
<text class="cap" text-anchor="middle" x="414.8" y="249.0">(<tspan font-weight="bold">b</tspan>)</text>
<path d="M465.9 30.5H486.8" stroke="#000000" stroke-width="1.5"/>
<text class="lg" font-size="8.6" x="488.8" y="33.5">Actual RUL</text>
<path d="M465.9 40.3H486.8" stroke="#0000ff" stroke-width="1.5"/>
<text class="lg" font-size="8.6" x="488.8" y="43.3">Subset 3</text>
<path d="M465.9 50.2H486.8" stroke="#808080" stroke-width="1.3"/>
<text class="lg" font-size="8.6" x="488.8" y="53.2">Subset 2</text>
<path d="M465.9 60.2H486.8" stroke="#ff0000" stroke-width="1.5"/>
<text class="lg" font-size="8.6" x="488.8" y="63.2">Subset 1</text>
<polyline points="168.1,345.3 371.3,345.3 379.4,471.4" fill="none" stroke="#000000" stroke-width="2.0" stroke-linejoin="round"/>
<polyline points="168.0,344.5 168.3,344.5 168.7,344.6 169.1,344.6 169.4,339.0 169.8,344.6 170.1,344.2 170.4,344.0 170.8,343.3 171.2,335.8 171.5,343.5 171.8,346.0 172.2,344.0 172.6,364.0 172.9,343.4 173.2,346.0 173.6,343.0 173.9,338.0 174.3,344.0 174.7,345.0 175.0,335.8 175.3,344.5 175.7,340.0 176.1,351.0 176.4,343.5 176.8,342.6 177.1,342.3 177.4,343.5 177.8,344.7 178.2,344.8 178.5,344.3 178.8,344.1 179.2,344.9 179.6,345.8 179.9,345.8 180.2,345.2 180.6,344.6 180.9,341.0 181.3,343.2 181.7,343.1 182.0,344.0 182.3,344.9 182.7,344.8 183.1,344.5 183.4,344.3 183.8,344.0 184.1,343.8 184.4,343.8 184.8,343.9 185.2,344.0 185.5,344.1 185.8,352.0 186.2,344.2 186.6,344.4 186.9,344.5 187.2,344.7 187.6,344.9 187.9,345.0 188.3,344.8 188.7,344.7 189.0,344.3 189.3,343.8 189.7,343.5 190.1,343.2 190.4,343.0 190.8,343.0 191.1,343.3 191.4,343.5 191.8,344.0 192.2,344.4 192.5,344.7 192.8,353.5 193.2,345.1 193.6,345.5 193.9,345.8 194.2,345.5 194.6,344.3 194.9,343.1 195.3,343.4 195.7,343.9 196.0,344.3 196.3,344.2 196.7,344.0 197.1,344.0 197.4,343.9 197.8,343.9 198.1,344.1 198.4,344.3 198.8,344.3 199.2,344.1 199.5,344.0 199.8,341.0 200.2,344.0 200.6,343.9 200.9,343.8 201.2,343.6 201.6,343.9 201.9,344.3 202.3,344.7 202.7,345.0 203.0,345.2 203.3,345.5 203.7,345.7 204.1,345.8 204.4,344.9 204.8,344.1 205.1,343.6 205.4,343.4 205.8,343.2 206.2,343.5 206.5,343.8 206.8,343.9 207.2,343.7 207.6,343.4 207.9,344.0 208.2,344.8 208.6,345.1 208.9,344.3 209.3,343.6 209.7,343.7 210.0,344.0 210.3,344.2 210.7,343.7 211.1,343.1 211.4,343.1 211.8,343.5 212.1,343.9 212.4,344.1 212.8,344.3 213.2,344.7 213.5,345.2 213.8,345.7 214.2,345.0 214.6,344.2 214.9,343.7 215.2,344.1 215.6,344.5 215.9,343.9 216.3,343.0 216.6,342.2 217.0,342.5 217.3,342.9 217.7,343.1 218.1,343.3 218.4,343.4 218.8,343.5 219.1,343.7 219.4,343.9 219.8,344.3 220.1,344.6 220.5,344.7 220.8,344.8 221.2,344.6 221.6,343.8 221.9,342.9 222.2,343.2 222.6,344.1 222.9,344.7 223.3,344.0 223.7,343.4 224.0,343.8 224.3,344.9 224.7,346.1 225.0,345.5 225.4,344.9 225.8,344.5 226.1,344.5 226.4,344.4 226.8,344.3 227.2,344.2 227.5,344.1 227.8,344.1 228.2,344.2 228.6,344.2 228.9,344.2 229.2,344.2 229.6,343.9 229.9,343.7 230.3,343.9 230.6,344.4 231.0,345.0 231.3,344.8 231.7,344.6 232.1,344.6 232.4,344.8 232.8,345.0 233.1,344.7 233.4,344.4 233.8,344.3 234.1,340.0 234.5,332.0 234.8,341.0 235.2,344.0 235.6,343.7 235.9,345.4 236.2,347.1 236.6,346.9 236.9,345.2 237.3,343.5 237.7,343.6 238.0,343.7 238.3,344.0 238.7,344.6 239.1,345.1 239.4,345.3 239.8,345.4 240.1,345.2 240.4,344.5 240.8,343.7 241.1,334.0 241.5,331.0 241.8,342.6 242.2,328.3 242.6,342.8 242.9,332.0 243.2,338.0 243.6,343.2 243.9,343.3 244.3,333.0 244.6,343.6 245.0,336.0 245.3,344.0 245.7,322.0 246.1,344.9 246.4,312.3 246.8,324.0 247.1,345.3 247.4,338.0 247.8,344.2 248.2,336.0 248.5,334.0 248.8,344.6 249.2,339.0 249.6,345.0 249.9,345.1 250.2,345.3 250.6,345.5 250.9,345.4 251.3,344.8 251.6,344.2 252.0,343.9 252.3,343.7 252.7,343.7 253.1,344.2 253.4,344.8 253.8,345.2 254.1,345.5 254.4,345.6 254.8,344.8 255.1,344.0 255.5,344.3 255.8,351.0 256.2,346.2 256.6,346.1 256.9,346.0 257.2,345.6 257.6,344.9 257.9,344.1 258.3,343.5 258.6,343.0 259.0,342.8 259.4,343.2 259.7,343.5 260.1,343.7 260.4,343.8 260.8,343.9 261.1,344.3 261.4,344.6 261.8,344.3 262.1,343.4 262.5,342.6 262.9,344.2 263.2,345.8 263.6,346.6 263.9,346.6 264.2,346.6 264.6,345.6 264.9,344.4 265.3,343.4 265.6,342.9 266.0,342.5 266.4,342.8 266.7,343.5 267.1,344.1 267.4,344.3 267.8,344.6 268.1,344.9 268.4,345.2 268.8,345.6 269.1,345.3 269.5,345.1 269.9,344.8 270.2,344.4 270.5,344.1 270.9,343.4 271.2,342.8 271.6,342.5 271.9,343.5 272.3,344.5 272.6,344.8 273.0,345.0 273.4,345.0 273.7,344.6 274.0,344.1 274.4,344.0 274.8,344.3 275.1,344.5 275.4,344.5 275.8,344.4 276.1,344.4 276.5,344.2 276.9,344.0 277.2,343.7 277.6,343.3 277.9,343.2 278.2,343.8 278.6,344.4 278.9,344.1 279.3,343.4 279.6,343.0 280.0,344.1 280.3,345.2 280.7,345.1 281.1,344.2 281.4,343.3 281.8,343.9 282.1,344.4 282.4,344.5 282.8,344.0 283.1,343.6 283.5,343.9 283.9,344.3 284.2,344.5 284.6,344.3 284.9,344.1 285.2,344.2 285.6,344.5 285.9,344.7 286.3,344.2 286.6,343.7 287.0,343.2 287.4,342.9 287.7,342.6 288.1,343.1 288.4,343.6 288.8,343.9 289.1,343.9 289.4,343.9 289.8,343.5 290.1,343.0 290.5,342.8 290.9,343.1 291.2,343.4 291.5,343.3 291.9,342.9 292.2,342.7 292.6,343.3 292.9,344.0 293.3,344.2 293.6,344.0 294.0,343.9 294.4,344.0 294.7,344.2 295.0,344.7 295.4,345.7 295.8,346.7 296.1,346.0 296.4,345.1 296.8,344.4 297.1,344.5 297.5,344.6 297.9,344.7 298.2,344.8 298.5,344.8 298.9,344.5 299.2,344.2 299.6,344.0 299.9,343.8 300.3,343.6 300.6,344.2 301.0,344.8 301.4,345.1 301.7,345.2 302.0,345.2 302.4,343.9 302.8,342.4 303.1,341.6 303.4,342.7 303.8,343.8 304.1,344.0 304.5,343.9 304.9,343.9 305.2,343.8 305.5,343.7 305.9,344.1 306.2,344.8 306.6,345.5 306.9,344.8 307.3,344.1 307.6,343.9 308.0,344.5 308.4,345.0 308.7,344.6 309.1,344.1 309.4,343.7 309.8,343.7 310.1,343.8 310.4,344.1 310.8,344.6 311.1,344.9 311.5,344.3 311.9,343.7 312.2,341.6 312.5,343.4 312.9,345.2 313.2,344.9 313.6,343.9 313.9,343.4 314.3,343.4 314.6,343.2 315.0,342.8 315.4,342.4 315.7,344.4 316.0,346.5 316.4,347.1 316.8,346.3 317.1,345.3 317.4,344.5 317.8,344.2 318.1,343.0 318.5,338.0 318.9,333.2 319.2,344.0 319.5,347.0 319.9,346.5 320.2,357.2 320.6,344.6 320.9,348.0 321.3,343.5 321.6,344.1 322.0,344.3 322.4,343.6 322.7,343.2 323.0,343.9 323.4,344.7 323.8,344.4 324.1,344.3 324.4,344.6 324.8,344.8 325.1,344.5 325.5,343.8 325.9,353.0 326.2,342.1 326.5,341.9 326.9,344.0 327.2,346.3 327.6,346.8 327.9,346.7 328.3,346.4 328.6,345.9 329.0,345.4 329.4,345.8 329.7,346.3 330.1,345.5 330.4,344.1 330.8,343.4 331.1,343.9 331.4,344.5 331.8,345.1 332.1,339.0 332.5,344.9 332.9,344.4 333.2,344.5 333.5,345.3 333.9,340.0 334.2,344.2 334.6,342.4 334.9,342.7 335.3,342.9 335.6,343.0 336.0,343.2 336.4,361.5 336.7,350.0 337.0,343.2 337.4,344.6 337.8,346.0 338.0,343.0 338.4,357.0 338.8,342.9 339.3,349.1 339.7,342.0 340.1,348.6 340.5,342.2 340.9,359.0 341.4,365.3 341.8,352.0 342.2,339.3 342.6,350.4 343.0,340.1 343.5,347.1 343.9,339.3 344.3,348.8 344.7,336.8 345.1,349.6 345.6,337.4 346.0,349.0 346.4,337.3 346.8,345.5 347.2,334.8 347.7,349.5 348.1,329.8 348.5,345.5 348.9,336.4 349.3,345.7 349.8,333.3 350.2,346.1 350.6,334.6 351.0,346.8 351.4,334.5 351.9,345.9 352.3,335.4 352.7,346.5 353.1,334.3 353.5,349.2 354.0,336.1 354.4,347.3 354.8,337.3 355.2,348.7 355.6,340.2 356.1,360.8 356.5,340.2 356.9,349.8 357.3,358.0 357.7,355.1 358.2,343.2 358.6,352.8 359.0,341.2 359.4,350.2 359.8,339.3 360.3,354.8 360.7,356.0 361.1,349.5 361.5,339.1 361.9,337.0 362.4,338.8 362.8,350.9 363.2,338.5 363.6,352.0 364.0,334.4 364.5,332.0 364.9,337.0 365.3,338.0 365.7,338.8 366.1,348.7 366.6,352.0 367.0,348.9 367.4,338.0 367.8,348.1 368.2,345.3 368.4,402.0 368.7,372.0 369.3,350.0 370.5,343.0 372.0,341.0 373.0,343.0 374.5,350.0 375.5,370.0 376.6,398.0 377.5,415.0 378.3,426.0 378.8,418.0 379.3,430.0 379.5,424.0" fill="none" stroke="#0000ff" stroke-width="1.1" stroke-linejoin="round"/>
<polyline points="168.0,344.9 168.4,345.9 168.8,346.8 169.2,347.1 169.6,347.1 170.0,347.3 170.4,347.5 170.8,347.6 171.2,347.0 171.6,346.5 172.0,345.7 172.4,345.0 172.8,345.1 173.2,345.4 173.6,345.6 174.0,345.6 174.4,345.1 174.8,343.4 175.2,341.7 175.6,342.3 176.0,342.8 176.4,344.7 176.8,347.0 177.2,347.6 177.6,346.2 178.0,353.0 178.4,342.1 178.8,339.6 179.2,341.9 179.6,344.3 180.0,345.2 180.4,345.4 180.8,345.0 181.2,343.7 181.6,343.5 182.0,346.6 182.4,349.7 182.8,348.8 183.2,352.0 183.6,347.3 184.0,347.0 184.4,346.4 184.8,345.5 185.2,345.0 185.6,345.6 186.0,346.2 186.4,346.5 186.8,346.8 187.2,346.7 187.6,346.4 188.0,345.7 188.4,344.7 188.8,344.0 189.2,344.8 189.6,345.6 190.0,339.0 190.4,345.5 190.8,345.6 191.2,345.7 191.6,345.3 192.0,344.2 192.4,343.5 192.8,344.6 193.2,345.7 193.6,345.5 194.0,345.3 194.4,345.4 194.8,345.6 195.2,345.7 195.6,345.6 196.0,345.4 196.4,344.1 196.8,342.8 197.2,344.5 197.6,346.3 198.0,346.8 198.4,346.7 198.8,345.9 199.2,344.0 199.6,342.5 200.0,342.2 200.4,341.9 200.8,342.5 201.2,343.3 201.6,343.7 202.0,344.1 202.4,344.8 202.8,346.1 203.2,347.1 203.6,346.7 204.0,346.3 204.4,347.4 204.8,348.7 205.2,348.0 205.6,346.3 206.0,345.5 206.4,345.9 206.8,346.2 207.2,345.8 207.6,345.4 208.0,352.0 208.4,341.1 208.8,342.7 209.2,346.5 209.6,348.2 210.0,346.8 210.4,345.7 210.8,345.9 211.2,346.0 211.6,345.8 212.0,345.5 212.4,344.9 212.8,344.0 213.2,343.7 213.6,344.3 214.0,344.8 214.4,344.2 214.8,343.6 215.2,343.8 215.6,344.0 216.0,344.6 216.4,345.3 216.8,345.2 217.2,343.9 217.6,343.0 218.0,345.5 218.4,348.1 218.8,346.2 219.2,343.8 219.6,344.0 220.0,345.7 220.4,346.2 220.8,344.9 221.1,343.7 221.5,343.2 221.9,342.7 222.3,337.8 222.7,345.3 223.1,340.0 223.5,345.5 223.9,344.8 224.3,343.2 224.7,342.0 225.1,343.4 225.5,344.7 225.9,344.5 226.3,344.0 226.7,344.3 227.1,345.3 227.5,345.6 227.9,340.0 228.3,344.1 228.7,344.5 229.1,345.0 229.5,345.9 229.9,346.8 230.3,345.9 230.7,343.7 231.1,342.6 231.5,343.2 231.9,343.8 232.3,343.7 232.7,345.6 233.1,346.9 233.5,351.2 233.9,354.2 234.3,354.3 234.7,354.4 235.1,354.5 235.5,353.9 235.9,349.3 236.3,345.3 236.7,345.5 237.1,345.4 237.5,345.2 237.9,347.3 238.3,352.4 238.7,354.8 239.1,354.3 239.5,353.0 239.9,348.7 240.3,345.4 240.7,345.2 241.1,345.1 241.5,348.8 241.9,353.4 242.3,354.4 242.7,354.4 243.1,354.3 243.5,354.3 243.9,354.3 244.3,354.4 244.7,354.4 245.1,354.6 245.5,354.7 245.9,354.9 246.3,355.1 246.7,355.1 247.1,355.1 247.5,354.8 247.9,354.5 248.3,354.8 248.7,355.1 249.1,355.0 249.5,355.0 249.9,354.6 250.3,354.2 250.7,354.2 251.1,354.3 251.5,350.7 251.9,346.3 252.3,345.7 252.7,346.1 253.1,345.8 253.5,345.4 253.9,346.7 254.3,351.2 254.7,354.6 255.1,354.9 255.5,354.7 255.9,353.1 256.3,348.6 256.7,345.4 257.1,345.5 257.5,345.6 257.9,345.6 258.3,345.7 258.7,349.7 259.1,353.6 259.5,353.8 259.9,352.7 260.3,348.5 260.7,345.6 261.1,345.3 261.5,345.0 261.9,345.4 262.3,345.9 262.7,350.3 263.1,354.4 263.5,354.4 263.9,354.5 264.3,353.3 264.7,348.8 265.1,345.2 265.5,344.8 265.9,345.0 266.3,354.3 266.7,345.1 267.1,348.5 267.5,353.1 267.9,348.8 268.3,345.7 268.7,344.5 269.1,345.1 269.5,345.8 269.9,351.0 270.3,346.3 270.7,346.4 271.1,346.7 271.5,346.9 271.9,345.9 272.3,344.8 272.7,345.0 273.1,345.6 273.5,345.3 273.9,344.3 274.3,343.7 274.7,344.7 275.1,345.6 275.5,345.7 275.9,353.0 276.3,345.2 276.7,352.0 277.1,342.7 277.5,340.3 277.9,339.0 278.3,341.3 278.7,343.6 279.1,346.4 279.5,349.3 279.9,348.3 280.3,345.9 280.7,344.5 281.1,344.0 281.5,343.6 281.9,343.2 282.3,342.9 282.7,344.7 283.1,346.6 283.5,346.6 283.9,345.9 284.3,345.3 284.7,344.9 285.1,344.3 285.5,343.3 285.9,342.4 286.3,343.2 286.7,344.1 287.1,343.7 287.5,342.9 287.9,343.2 288.3,344.5 288.7,345.8 289.1,346.8 289.5,347.9 289.9,351.0 290.3,347.1 290.7,346.0 291.1,344.5 291.5,343.6 291.9,343.2 292.3,342.9 292.7,342.5 293.1,340.0 293.5,343.7 293.9,345.3 294.3,345.9 294.7,346.0 295.1,346.1 295.5,346.3 295.9,346.4 296.3,346.0 296.7,345.6 297.1,344.3 297.5,342.9 297.9,342.0 298.3,341.4 298.7,342.2 299.1,344.9 299.5,346.8 299.9,345.1 300.3,343.3 300.7,345.5 301.1,347.9 301.5,346.2 301.9,342.7 302.3,341.1 302.7,341.9 303.1,342.7 303.5,342.8 303.9,343.0 304.3,352.0 304.7,350.0 305.1,345.6 305.5,346.0 305.9,345.7 306.3,344.7 306.7,343.9 307.1,345.0 307.5,346.0 307.9,336.8 308.3,341.6 308.7,341.7 309.1,343.1 309.5,343.6 309.9,353.5 310.3,342.5 310.7,351.0 311.1,343.7 311.5,343.7 311.9,343.6 312.3,344.1 312.7,345.0 313.1,346.6 313.5,349.4 313.9,351.1 314.3,346.8 314.7,342.5 315.1,343.1 315.5,344.1 315.9,338.0 316.3,345.8 316.7,346.0 317.1,345.5 317.5,345.2 317.9,346.4 318.3,347.6 318.7,345.8 319.1,343.6 319.5,343.8 319.9,345.4 320.3,345.9 320.7,344.5 321.1,343.5 321.5,344.9 321.9,346.3 322.3,346.0 322.7,345.4 323.1,352.5 323.5,345.3 323.9,345.1 324.3,344.3 324.7,343.5 325.1,342.4 325.5,341.3 325.9,341.7 326.2,342.4 326.6,343.7 327.0,345.3 327.4,352.0 327.8,345.1 328.2,344.4 328.6,345.3 329.0,346.2 329.4,344.7 329.8,342.9 330.2,343.3 330.6,345.0 331.0,340.0 331.4,346.6 331.8,346.6 332.2,343.7 332.6,340.8 333.0,342.4 333.4,344.6 333.8,346.4 334.2,347.8 334.6,347.9 335.0,345.5 335.4,343.5 335.8,345.1 336.2,346.6 336.6,346.1 337.0,345.3 337.4,345.4 337.8,346.1 338.2,346.2 338.6,345.1 339.0,344.0 339.4,343.0 339.8,342.0 340.2,342.6 340.6,343.6 341.0,344.0 341.4,344.1 341.8,344.1 342.2,343.9 342.6,343.7 343.0,343.4 343.4,343.2 343.8,344.6 344.2,346.3 344.6,346.2 345.0,344.7 345.4,343.5 345.8,343.0 346.2,342.5 346.6,342.7 347.0,343.0 347.4,344.0 347.8,345.3 348.2,344.5 348.6,342.1 349.0,341.2 349.4,343.6 349.8,345.9 350.2,346.1 350.6,346.3 351.0,346.7 351.4,347.2 351.8,346.6 352.2,345.0 352.6,343.9 353.0,343.6 353.4,343.3 353.8,344.2 354.2,345.1 354.6,345.2 355.0,345.2 355.4,345.7 355.8,346.8 356.2,347.2 356.6,346.0 357.0,345.0 357.4,344.5 357.8,344.1 358.2,343.4 358.6,342.6 359.0,342.5 359.4,343.1 359.8,343.8 360.2,344.4 360.6,345.1 361.0,346.1 361.4,347.0 361.8,346.5 362.2,345.5 362.6,345.4 363.0,345.9 363.4,346.4 363.8,346.9 364.2,347.3 364.6,345.5 365.0,343.7 365.4,343.1 365.8,342.8 366.2,342.8 366.6,343.3 367.0,343.7 367.4,344.1 367.8,344.4 368.2,343.9 368.6,343.4 369.0,348.0 369.4,362.0 369.8,388.0 370.3,376.0 370.8,400.0 371.3,384.0 372.0,365.0 372.8,380.0 373.5,352.0 374.5,347.0 375.8,347.0 376.8,352.0 377.8,358.0 378.6,364.0 379.6,369.8" fill="none" stroke="#808080" stroke-width="1.25" stroke-linejoin="round"/>
<polyline points="374.8,346.6 375.8,346.8 376.8,351.0 377.8,357.5 378.6,364.0 379.6,369.8" fill="none" stroke="#808080" stroke-width="1.7" stroke-linejoin="round"/>
<polyline points="168.0,352.0 168.2,358.0 168.4,353.5 168.6,349.0 168.9,348.0 169.2,347.0 169.5,346.4 169.7,345.9 170.0,345.3 170.0,343.6 170.3,344.2 170.7,344.7 171.0,344.8 171.4,344.8 171.7,344.8 172.1,344.9 172.4,345.1 172.8,345.3 173.1,345.5 173.5,345.7 173.8,345.1 174.2,344.5 174.5,344.6 174.9,344.6 175.2,344.0 175.6,343.4 175.9,344.3 176.3,345.2 176.6,345.2 177.0,345.1 177.3,343.8 177.7,342.4 178.0,343.9 178.4,345.5 178.7,345.2 179.1,344.8 179.4,345.4 179.8,346.0 180.1,345.8 180.5,345.6 180.8,345.4 181.2,345.2 181.5,345.8 181.9,346.4 182.2,345.7 182.6,344.9 182.9,344.8 183.3,344.7 183.6,344.8 184.0,344.9 184.3,344.9 184.7,344.9 185.0,344.5 185.4,344.2 185.7,344.7 186.1,345.3 186.4,345.3 186.8,345.3 187.1,345.0 187.5,344.7 187.8,344.2 188.2,343.8 188.5,344.7 188.9,345.7 189.2,345.8 189.6,345.8 189.9,345.6 190.3,345.5 190.6,345.6 191.0,345.6 191.3,346.0 191.7,346.3 192.0,345.9 192.4,345.4 192.7,345.8 193.1,346.4 193.4,345.8 193.8,345.2 194.1,344.9 194.5,344.7 194.8,345.0 195.2,345.3 195.5,345.2 195.9,344.9 196.2,345.7 196.6,346.6 196.9,346.4 197.3,346.2 197.6,345.7 198.0,345.2 198.3,345.5 198.7,345.8 199.0,346.2 199.4,346.7 199.7,346.7 200.1,346.7 200.4,346.0 200.8,345.4 201.1,345.0 201.5,344.7 201.8,345.6 202.2,346.6 202.5,345.6 202.9,344.4 203.2,344.0 203.6,343.7 203.9,343.6 204.3,343.5 204.6,344.6 205.0,345.7 205.3,345.1 205.7,344.2 206.0,344.6 206.4,345.2 206.7,345.3 207.1,345.5 207.4,346.1 207.8,346.6 208.1,345.7 208.5,344.6 208.8,344.9 209.2,345.3 209.5,345.4 209.9,345.4 210.2,345.8 210.6,346.3 210.9,345.9 211.3,345.3 211.6,345.5 212.0,345.7 212.3,345.6 212.7,345.4 213.0,345.8 213.4,346.2 213.7,346.2 214.1,346.1 214.4,345.5 214.8,345.0 215.1,345.2 215.5,345.5 215.8,344.8 216.2,344.0 216.5,344.4 216.9,345.0 217.2,344.7 217.6,344.3 217.9,344.5 218.3,344.8 218.6,345.3 219.0,346.0 219.3,346.5 219.7,347.0 220.0,346.5 220.3,345.7 220.7,345.4 221.0,345.2 221.4,345.1 221.7,344.9 222.1,345.2 222.4,345.5 222.8,345.3 223.1,345.0 223.5,345.3 223.8,345.8 224.2,346.1 224.5,346.3 224.9,346.1 225.2,345.8 225.6,345.4 225.9,345.1 226.3,345.5 226.6,346.0 227.0,345.6 227.3,345.1 227.7,344.7 228.0,344.3 228.4,345.1 228.7,346.1 229.1,346.5 229.4,346.8 229.8,346.6 230.1,346.4 230.5,345.9 230.8,345.3 231.2,344.3 231.5,343.2 231.9,343.8 232.2,344.9 232.6,345.5 232.9,345.9 233.3,345.6 233.6,345.1 234.0,345.5 234.3,346.0 234.7,345.4 235.0,344.5 235.4,344.8 235.7,345.3 236.1,345.3 236.4,345.3 236.8,345.3 237.1,345.3 237.5,344.9 237.8,344.3 238.2,344.6 238.5,345.2 238.9,345.5 239.2,345.7 239.6,345.6 239.9,345.4 240.3,343.9 240.6,342.1 241.0,343.0 241.3,338.0 241.7,334.0 242.0,339.0 242.4,345.0 242.7,345.7 243.1,345.8 243.4,345.8 243.8,345.6 244.1,345.4 244.5,345.4 244.8,345.4 245.2,345.3 245.5,345.1 245.9,349.7 246.2,345.3 246.6,344.7 246.9,343.9 247.3,344.3 247.6,345.1 248.0,345.5 248.3,345.9 248.7,345.5 249.0,345.0 249.4,345.3 249.7,345.8 250.1,345.3 250.4,344.4 250.8,344.7 251.1,345.2 251.5,345.2 251.8,345.1 252.2,345.3 252.5,345.5 252.9,345.5 253.2,345.5 253.6,346.2 253.9,347.1 254.3,345.8 254.6,343.9 255.0,344.0 255.3,344.5 255.7,344.8 256.0,345.0 256.4,345.2 256.7,345.3 257.1,345.1 257.4,344.7 257.8,344.7 258.1,344.7 258.5,344.5 258.8,344.2 259.2,344.3 259.5,344.4 259.9,344.6 260.2,344.8 260.6,345.4 260.9,346.3 261.3,345.8 261.6,344.9 262.0,345.6 262.3,346.9 262.7,346.7 263.0,346.2 263.4,345.7 263.7,345.2 264.1,345.4 264.4,345.9 264.8,346.1 265.1,346.2 265.5,345.6 265.8,344.7 266.2,344.3 266.5,344.1 266.9,344.8 267.2,345.9 267.6,345.5 267.9,344.5 268.3,344.7 268.6,345.4 269.0,345.5 269.3,345.3 269.6,344.6 270.0,343.7 270.3,344.2 270.7,345.2 271.0,345.5 271.4,345.6 271.7,345.8 272.1,346.2 272.4,346.0 272.8,345.6 273.1,345.6 273.5,345.8 273.8,345.8 274.2,345.8 274.5,345.7 274.9,345.5 275.2,345.9 275.6,346.5 275.9,346.5 276.3,346.2 276.6,346.2 277.0,346.4 277.3,346.1 277.7,345.6 278.0,345.6 278.4,345.8 278.7,345.3 279.1,344.4 279.4,344.2 279.8,344.3 280.1,344.7 280.5,345.4 280.8,345.4 281.2,345.1 281.5,345.0 281.9,345.0 282.2,345.2 282.6,345.5 282.9,345.1 283.3,344.4 283.6,344.5 284.0,345.1 284.3,345.4 284.7,345.4 285.0,345.2 285.4,344.9 285.7,344.8 286.1,344.8 286.4,345.3 286.8,346.2 287.1,346.1 287.5,345.6 287.8,345.1 288.2,344.6 288.5,344.6 288.9,344.8 289.2,344.7 289.6,344.4 289.9,344.2 290.3,344.2 290.6,344.1 291.0,344.0 291.3,344.2 291.7,344.6 292.0,344.9 292.4,345.3 292.7,345.6 293.1,345.8 293.4,345.7 293.8,345.4 294.1,345.6 294.5,346.0 294.8,346.1 295.2,345.9 295.5,345.4 295.9,344.7 296.2,344.5 296.6,344.6 296.9,344.8 297.3,345.2 297.6,345.4 298.0,345.6 298.3,345.8 298.7,345.9 299.0,345.4 299.4,344.5 299.7,344.0 300.1,343.8 300.4,344.7 300.8,346.3 301.1,346.3 301.5,345.5 301.8,345.5 302.2,346.0 302.5,346.0 302.9,345.6 303.2,345.1 303.6,344.5 303.9,344.9 304.3,345.9 304.6,346.0 305.0,345.6 305.3,345.7 305.7,346.2 306.0,346.1 306.4,345.8 306.7,345.4 307.1,344.8 307.4,344.8 307.8,345.2 308.1,345.6 308.5,345.9 308.8,345.7 309.2,345.1 309.5,345.0 309.9,345.3 310.2,345.7 310.6,346.1 310.9,345.7 311.3,344.8 311.6,344.7 312.0,345.0 312.3,345.3 312.7,345.5 313.0,345.7 313.4,346.0 313.7,345.9 314.1,345.4 314.4,345.1 314.8,344.9 315.1,345.0 315.5,345.5 315.8,345.5 316.2,345.0 316.5,345.1 316.9,345.5 317.2,345.6 317.6,345.6 317.9,345.5 318.3,345.4 318.6,345.6 319.0,346.0 319.3,346.3 319.6,346.5 320.0,346.1 320.3,345.1 320.7,344.8 321.0,344.9 321.4,345.1 321.7,345.3 322.1,345.3 322.4,345.2 322.8,345.2 323.1,345.4 323.5,345.6 323.8,346.0 324.2,345.9 324.5,345.4 324.9,345.2 325.2,345.0 325.6,344.7 325.9,344.3 326.3,344.3 326.6,344.6 327.0,344.8 327.3,344.8 327.7,344.6 328.0,344.3 328.4,344.3 328.7,344.6 329.1,344.9 329.4,345.2 329.8,345.6 330.1,346.0 330.5,345.9 330.8,345.4 331.2,345.7 331.5,346.7 331.9,347.0 332.2,346.8 332.6,346.6 332.9,346.6 333.3,346.4 333.6,346.3 334.0,346.1 334.3,345.9 334.7,345.6 335.0,345.3 335.4,345.5 335.7,346.0 336.1,346.1 336.4,345.6 336.8,345.4 337.1,345.4 337.5,345.6 337.8,346.2 338.2,346.5 338.5,346.7 338.9,346.6 339.2,346.0 339.6,345.9 339.9,346.1 340.3,345.8 340.6,345.1 341.0,344.5 341.3,344.0 341.7,344.1 342.0,344.7 342.4,345.1 342.7,345.2 343.1,345.5 343.4,345.9 343.8,346.3 344.1,346.7 344.5,346.5 344.8,345.7 345.2,345.5 345.5,345.8 345.9,346.0 346.2,345.9 346.6,345.7 346.9,345.4 347.3,345.3 347.6,345.5 348.0,345.6 348.3,345.4 348.7,345.6 349.0,346.0 349.4,345.8 349.7,344.8 350.1,344.1 350.4,343.6 350.8,343.4 351.1,343.6 351.5,344.2 351.8,345.2 352.2,345.8 352.5,345.8 352.9,345.6 353.2,345.1 353.6,345.0 353.9,345.5 354.3,345.6 354.6,345.2 355.0,345.2 355.3,345.7 355.7,345.7 356.0,345.2 356.4,344.8 356.7,344.7 357.1,345.0 357.4,345.7 357.8,345.7 358.1,345.0 358.5,344.5 358.8,344.5 359.2,344.9 359.5,345.7 359.9,346.1 360.2,345.9 360.6,345.3 360.9,344.3 361.3,344.4 361.6,345.7 362.0,345.9 362.3,345.0 362.7,344.6 363.0,344.9 363.4,345.1 363.7,345.2 364.1,345.7 364.4,346.5 364.8,346.6 365.1,345.8 365.5,345.6 365.8,346.0 366.2,346.0 366.5,345.6 366.9,345.4 367.2,345.7 367.6,345.5 367.9,344.8 368.3,344.6 368.6,345.2 368.7,345.3 368.9,358.0 369.1,369.8 369.4,356.0 370.0,347.0 371.0,343.5 372.0,341.9 372.8,344.0 373.4,350.0" fill="none" stroke="#ff0000" stroke-width="2.55" stroke-linejoin="round"/>
<polyline points="373.4,350.0 372.8,356.0 373.1,359.0 373.3,362.0 373.5,365.0 373.6,368.0 373.8,371.0 373.9,374.0 374.0,377.0 374.2,380.0 374.3,383.0 374.5,386.0 374.7,389.0 375.0,392.0 375.2,395.0 375.5,398.0 375.7,401.0 376.0,404.0 376.2,407.0 376.3,410.0 376.5,413.0 376.6,416.0 376.8,419.0 376.9,422.0 377.0,425.0 377.2,428.0 377.4,431.0 377.6,434.0 377.9,437.0 378.1,440.0 378.4,443.0 378.6,446.0 378.9,449.0 379.1,452.0 379.2,455.0 379.4,458.0 379.5,461.0 379.6,464.0 379.6,465.5" fill="none" stroke="#ff0000" stroke-width="1.6" stroke-linejoin="round"/>
<path d="M168.1 284.8V471.4H404.0" fill="none" stroke="#1c1c1c" stroke-width="1.25"/>
<path d="M168.1 471.4v-2.6M201.8 471.4v-2.6M235.5 471.4v-2.6M269.2 471.4v-2.6M302.9 471.4v-2.6M336.6 471.4v-2.6M370.3 471.4v-2.6M404.0 471.4v-2.6M168.1 471.4h2.6M168.1 446.2h2.6M168.1 421.1h2.6M168.1 395.9h2.6M168.1 370.8h2.6M168.1 345.6h2.6M168.1 320.5h2.6M168.1 295.3h2.6" fill="none" stroke="#1c1c1c" stroke-width="1.05"/>
<g class="tk" text-anchor="middle" font-size="7.4">
<text x="168.1" y="481.5">0</text>
<text x="201.8" y="481.5">1000</text>
<text x="235.5" y="481.5">2000</text>
<text x="269.2" y="481.5">3000</text>
<text x="302.9" y="481.5">4000</text>
<text x="336.6" y="481.5">5000</text>
<text x="370.3" y="481.5">6000</text>
<text x="404.0" y="481.5">7000</text>
</g>
<g class="tk" text-anchor="end" font-size="7.4">
<text x="165.0" y="474.0">0</text>
<text x="165.0" y="448.9">50</text>
<text x="165.0" y="423.7">100</text>
<text x="165.0" y="398.6">150</text>
<text x="165.0" y="373.4">200</text>
<text x="165.0" y="348.2">250</text>
<text x="165.0" y="323.1">300</text>
<text x="165.0" y="297.9">350</text>
</g>
<text class="sf" font-size="8.6" text-anchor="middle" x="285.2" y="281.6">RUL prediction of Br3-3</text>
<text class="al" font-size="8.75" text-anchor="middle" x="286.0" y="491.8">Time points</text>
<text class="al" font-size="8.75" text-anchor="middle" transform="translate(148.3 378.1) rotate(-90)">RUL</text>
<text class="cap" text-anchor="middle" x="276.0" y="524.6">(<tspan font-weight="bold">c</tspan>)</text>
<path d="M329.5 297.3H351.0" stroke="#000000" stroke-width="1.7"/>
<text class="lg" font-size="8.7" x="353.2" y="300.3">Actual RUL</text>
<path d="M329.5 307.6H351.0" stroke="#0000ff" stroke-width="1.0"/>
<text class="lg" font-size="8.7" x="353.2" y="310.6">Subset 3</text>
<path d="M329.5 317.9H351.0" stroke="#808080" stroke-width="1.0"/>
<text class="lg" font-size="8.7" x="353.2" y="320.9">Subset 2</text>
<path d="M329.5 328.1H351.0" stroke="#ff0000" stroke-width="1.7"/>
<text class="lg" font-size="8.7" x="353.2" y="331.1">Subset 1</text>
</svg>
</body></html>
